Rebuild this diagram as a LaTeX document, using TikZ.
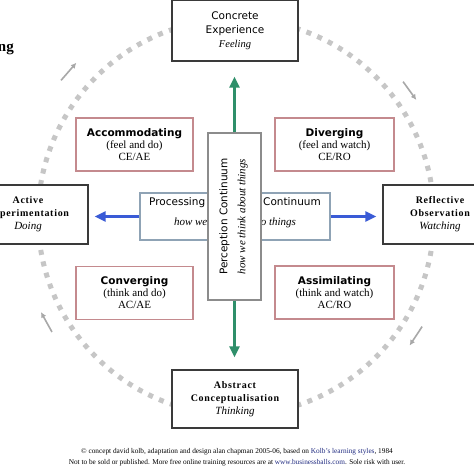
\documentclass[tikz,border=0pt]{standalone}
\usepackage{fontspec}
\setmainfont{Liberation Serif}
\setsansfont{DejaVu Sans}
\newfontfamily\spacedserif[LetterSpace=7]{Liberation Serif}
\usetikzlibrary{arrows.meta,calc}

\definecolor{boxgray}{HTML}{3A3A3A}
\definecolor{stylered}{HTML}{C48A8E}
\definecolor{procblue}{HTML}{8FA3B5}
\definecolor{percgray}{HTML}{8C8C8C}
\definecolor{arrowgreen}{HTML}{2F8F6A}
\definecolor{arrowblue}{HTML}{3A5BD6}
\definecolor{dotgray}{HTML}{C6C6C6}
\definecolor{cyclegray}{HTML}{A8A8A8}
\definecolor{linkblue}{HTML}{1F2A80}

\newcommand{\kolbstyle}[3]{{\sffamily\bfseries\fontsize{10.5}{12}\selectfont #1}\\ #2\\ #3}

\begin{document}
\begin{tikzpicture}[x=1pt,y=-1pt,
  modebox/.style={draw=boxgray, line width=1.3pt, fill=white, inner sep=0pt, align=center,
    font=\spacedserif\bfseries\fontsize{10}{13}\selectfont},
  stylebox/.style={draw=stylered, line width=1.2pt, fill=white, inner sep=0pt, align=center,
    minimum width=117pt, minimum height=53pt, font=\fontsize{11}{12}\selectfont},
  procbox/.style={draw=procblue, line width=1.2pt, fill=white, inner sep=0pt,
    minimum width=190pt, minimum height=47pt},
  percbox/.style={draw=percgray, line width=1.2pt, fill=white, inner sep=0pt,
    minimum width=53pt, minimum height=167pt},
  cycledots/.style={draw=dotgray, line width=5pt, dash pattern=on 5pt off 6.7pt},
  cyclearrow/.style={draw=cyclegray, line width=1.6pt, -{Latex[length=5.5pt,width=5.5pt]}},
  greenarr/.style={draw=arrowgreen, line width=2.4pt, -{Triangle[length=11pt,width=10pt]}},
  bluearr/.style={draw=arrowblue, line width=2.4pt, -{Triangle[length=11pt,width=10pt]}}
]
\useasboundingbox (0,0) rectangle (474,474);
\clip (0,0) rectangle (474,474);
\fill[white] (0,0) rectangle (474,474);

% dotted learning cycle
\draw[cycledots] (236,217) circle[radius=198pt];
\begin{scope}[shift={(236,217)}]
  \draw[cyclearrow] (218:222) -- (224:222);
  \draw[cyclearrow] (321:215) -- (327:215);
  \draw[cyclearrow] (30.5:216) -- (36.5:216);
  \draw[cyclearrow] (148:217) -- (154:217);
\end{scope}

% title fragment
\node[font=\bfseries\fontsize{15}{15}\selectfont, anchor=base east, inner sep=0pt] (titlefrag) at (14,51) {ng};

% four modes
\node[modebox, font=\sffamily\fontsize{10.5}{14}\selectfont, minimum width=126pt, minimum height=61pt] (ce) at (235,30.5)
  {Concrete\\Experience\\{\rmfamily\itshape\fontsize{10.5}{13}\selectfont Feeling}};
\node[modebox, minimum width=126pt, minimum height=58pt] (ac) at (235,399)
  {Abstract\\Conceptualisation\\{\normalfont\itshape\fontsize{11}{13}\selectfont Thinking}};
\node[modebox, minimum width=120pt, minimum height=59pt] (ae) at (28,214.5)
  {Active\\Experimentation\\{\normalfont\itshape\fontsize{11}{13}\selectfont Doing}};
\node[modebox, minimum width=114pt, minimum height=59pt] (ro) at (440,214.5)
  {Reflective\\Observation\\{\normalfont\itshape\fontsize{11}{13}\selectfont Watching}};

% four styles
\node[stylebox] (acc) at (134.5,144.5) {\kolbstyle{Accommodating}{(feel and do)}{CE/AE}};
\node[stylebox, minimum width=119pt] (div) at (334.5,144.5) {\kolbstyle{Diverging}{(feel and watch)}{CE/RO}};
\node[stylebox, minimum width=117pt] (con) at (134.5,293) {\kolbstyle{Converging}{(think and do)}{AC/AE}};
\node[stylebox, minimum width=119pt] (ass) at (334.5,292.5) {\kolbstyle{Assimilating}{(think and watch)}{AC/RO}};

% processing continuum
\node[procbox] (proc) at (235,216.5) {};
\node[align=center, inner sep=0pt, font=\fontsize{11}{13}\selectfont] (proctext) at (235,213)
  {{\sffamily\fontsize{10.5}{13}\selectfont Processing\hspace{58pt}Continuum}\\[7pt]{\itshape how we\hspace{48pt}do things}};

% perception continuum
\node[percbox] (perc) at (234.5,216.5) {};
\node[rotate=90, align=center, inner sep=0pt] (perctext) at (233.5,216.5)
  {{\sffamily\fontsize{10.5}{13}\selectfont Perception Continuum}\\[6pt]{\itshape\fontsize{11}{13}\selectfont how we think about things}};

% continuum arrows
\draw[greenarr, shorten >=15pt] (perc.north) -- (perc.north |- ce.south);
\draw[greenarr, shorten >=12pt] (perc.south) -- (perc.south |- ac.north);
\draw[bluearr, shorten >=6pt] (proc.west) -- (proc.west -| ae.east);
\draw[bluearr, shorten >=6pt] (proc.east) -- (proc.east -| ro.west);

% footer
\node[align=center, inner sep=0pt, font=\fontsize{7.3}{11}\selectfont] (foot) at (237,457.5)
  {\textcopyright{} concept david kolb, adaptation and design alan chapman 2005-06, based on \textcolor{linkblue}{Kolb's learning styles}, 1984\\
   Not to be sold or published. More free online training resources are at \textcolor{linkblue}{www.businessballs.com}. Sole risk with user.};
\end{tikzpicture}
\end{document}
